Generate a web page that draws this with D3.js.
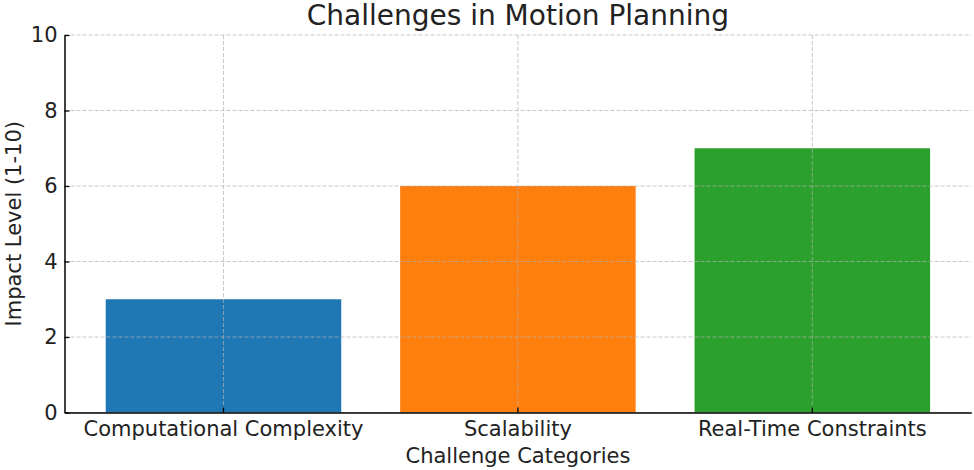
<!DOCTYPE html>
<html><head><meta charset="utf-8">
<script src="https://cdn.jsdelivr.net/npm/d3@7"></script>
<style>body{margin:0;background:#fff}svg{display:block;font-family:"DejaVu Sans",sans-serif}</style>
</head><body>
<svg id="c" width="974" height="470"></svg>
<script>
const categories = ["Computational Complexity", "Scalability", "Real-Time Constraints"];
const impact = [3, 6, 7];
const colors = ["#1f77b4", "#ff7f0e", "#2ca02c"];
const yTicks = [0, 2, 4, 6, 8, 10];

const svg = d3.select("#c");
const L = 64.5, R = 971.3, T = 35, B = 412.5;
const x = d3.scaleBand().domain(categories).range([L, R]).paddingInner(0.2).paddingOuter(0.14);
const y = d3.scaleLinear().domain([0, 10]).range([B, T]);

// bars
svg.selectAll("rect.bar").data(categories).join("rect")
  .attr("class", "bar")
  .attr("x", d => x(d)).attr("width", x.bandwidth())
  .attr("y", (d, i) => y(impact[i])).attr("height", (d, i) => B - y(impact[i]))
  .attr("fill", (d, i) => colors[i]);

// grid
const grid = svg.append("g").attr("stroke", "#b0b0b0").attr("stroke-opacity", 0.7)
  .attr("stroke-width", 1).attr("stroke-dasharray", "4,2");
grid.selectAll("line.h").data(yTicks).join("line").attr("class", "h")
  .attr("x1", L).attr("x2", R).attr("y1", d => y(d)).attr("y2", d => y(d));
grid.selectAll("line.v").data(categories).join("line").attr("class", "v")
  .attr("x1", d => x(d) + x.bandwidth() / 2).attr("x2", d => x(d) + x.bandwidth() / 2)
  .attr("y1", T).attr("y2", B);

// axes
const yAxis = d3.axisLeft(y).tickValues(yTicks).tickSizeInner(-5).tickSizeOuter(0).tickPadding(7);
const gy = svg.append("g").attr("transform", `translate(${L},0)`).call(yAxis);
const xAxis = d3.axisBottom(x).tickSizeInner(-5).tickSizeOuter(0).tickPadding(9);
const gx = svg.append("g").attr("transform", `translate(0,${B})`).call(xAxis);
[gy, gx].forEach(g => {
  g.select(".domain").attr("stroke", "#000").attr("stroke-width", 1.5);
  g.selectAll(".tick line").attr("stroke", "#000").attr("stroke-width", 1.3);
  g.selectAll(".tick text").attr("fill", "#222").attr("font-size", 21)
    .attr("font-family", "DejaVu Sans, sans-serif");
});
gx.selectAll(".tick text").attr("dy", "0.71em");

// labels
svg.append("text").attr("x", (L + R) / 2).attr("y", 25).attr("text-anchor", "middle")
  .attr("font-size", 28).attr("fill", "#222").text("Challenges in Motion Planning");
svg.append("text").attr("x", (L + R) / 2).attr("y", 463).attr("text-anchor", "middle")
  .attr("font-size", 21).attr("fill", "#222").text("Challenge Categories");
svg.append("text").attr("transform", `translate(21,${(T + B) / 2}) rotate(-90)`)
  .attr("text-anchor", "middle").attr("font-size", 21).attr("fill", "#222").text("Impact Level (1-10)");
</script>
</body></html>
